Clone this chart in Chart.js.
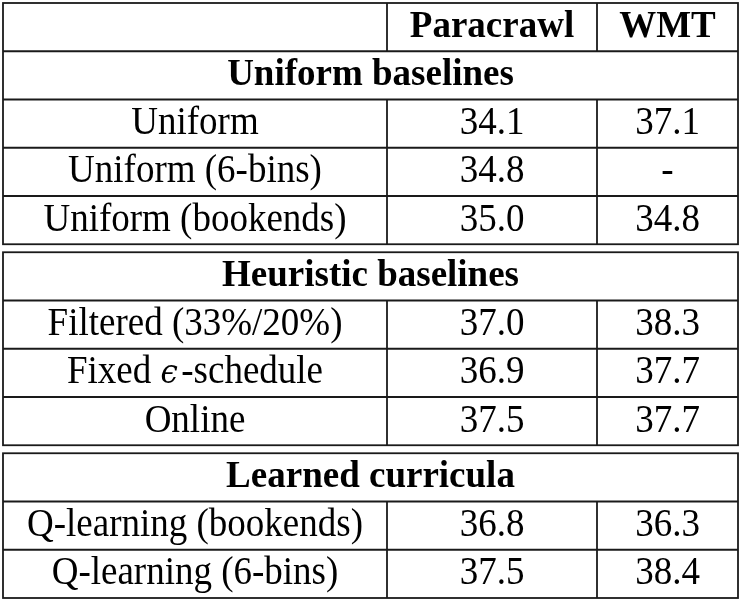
<!DOCTYPE html>
<html><head><meta charset="utf-8">
<script src="https://cdn.jsdelivr.net/npm/chart.js@4"></script>
<style>html,body{margin:0;padding:0;background:#fff}canvas{display:block}</style>
</head><body>
<canvas id="c" width="741" height="603" style="width:741px;height:603px"></canvas>
<script>
// ---- data ----
const columns = ['', 'Paracrawl', 'WMT'];
const groups = ['Uniform baselines', 'Heuristic baselines', 'Learned curricula'];
const methods = ['Uniform', 'Uniform (6-bins)', 'Uniform (bookends)',
  'Filtered (33%/20%)', 'Fixed \u03F5-schedule', 'Online',
  'Q-learning (bookends)', 'Q-learning (6-bins)'];
const methodGroup = [0, 0, 0, 1, 1, 1, 2, 2];
const paracrawl = [34.1, 34.8, 35.0, 37.0, 36.9, 37.5, 36.8, 37.5];
const wmt = [37.1, null, 34.8, 38.3, 37.7, 37.7, 36.3, 38.4];

// ---- layout (not data) ----
const colEdges = [0, 384, 594, 735];
const GAP = 0.166; // gap between stacked tables, in row units
const FONT = '"Liberation Serif", "Times New Roman", serif';
const FS = 37;

const rows = [];
let y = 0;
rows.push({type: 'header', top: y, block: 0}); y += 1;
groups.forEach((g, gi) => {
  if (gi > 0) y += GAP;
  rows.push({type: 'group', top: y, label: g, block: gi}); y += 1;
  methods.forEach((m, mi) => {
    if (methodGroup[mi] === gi) { rows.push({type: 'row', top: y, label: m, idx: mi, block: gi}); y += 1; }
  });
});
const totalH = y;
const colCenter = i => (colEdges[i] + colEdges[i + 1]) / 2;
const fmt = v => (v === null || v === undefined) ? '-' : v.toFixed(1);

const textCells = [];
rows.forEach(r => {
  const cy = r.top + 0.5;
  if (r.type === 'header') {
    columns.forEach((c, ci) => textCells.push({x: colCenter(ci), y: cy, text: c, bold: true}));
  } else if (r.type === 'group') {
    textCells.push({x: (colEdges[0] + colEdges[3]) / 2, y: cy, text: r.label, bold: true});
  } else {
    textCells.push({x: colCenter(0), y: cy, text: r.label, bold: false});
    textCells.push({x: colCenter(1), y: cy, text: fmt(paracrawl[r.idx]), bold: false});
    textCells.push({x: colCenter(2), y: cy, text: fmt(wmt[r.idx]), bold: false});
  }
});

function drawRuns(ctx, text, cx, base, bold) {
  const weight = bold ? 'bold ' : '';
  const runs = [];
  let buf = '';
  for (const ch of text) {
    if (ch === '\u03F5') { if (buf) runs.push({t: buf, it: false}); buf = ''; runs.push({t: ch, it: true}); }
    else buf += ch;
  }
  if (buf) runs.push({t: buf, it: false});
  const fontFor = r => (r.it ? 'italic ' : '') + weight + FS + 'px ' + (r.it ? '"DejaVu Serif", ' : '') + FONT;
  let total = 0;
  runs.forEach(r => { ctx.font = fontFor(r); r.w = ctx.measureText(r.t).width; total += r.w; });
  let x = cx - total / 2;
  ctx.textAlign = 'left';
  runs.forEach(r => {
    ctx.font = r.it ? ('italic ' + weight + Math.round(FS * 0.85) + 'px "DejaVu Serif", ' + FONT) : fontFor(r);
    ctx.fillText(r.t, x, 0);
    x += r.w;
  });
}

const tablePlugin = {
  id: 'tablePlugin',
  afterDatasetsDraw(chart) {
    const ctx = chart.ctx, xs = chart.scales.x, ys = chart.scales.y;
    const X = v => xs.getPixelForValue(v), Y = v => ys.getPixelForValue(v);
    ctx.save();
    ctx.strokeStyle = '#1a1a1a';
    ctx.lineWidth = 1.8;
    for (let b = 0; b < groups.length; b++) {
      const br = rows.filter(r => r.block === b);
      const top = br[0].top, bot = br[br.length - 1].top + 1;
      ctx.strokeRect(X(colEdges[0]), Y(top), X(colEdges[3]) - X(colEdges[0]), Y(bot) - Y(top));
      br.forEach((r, i) => {
        if (i > 0) {
          ctx.beginPath(); ctx.moveTo(X(colEdges[0]), Y(r.top)); ctx.lineTo(X(colEdges[3]), Y(r.top)); ctx.stroke();
        }
        if (r.type !== 'group') {
          [1, 2].forEach(ci => {
            ctx.beginPath(); ctx.moveTo(X(colEdges[ci]), Y(r.top)); ctx.lineTo(X(colEdges[ci]), Y(r.top + 1)); ctx.stroke();
          });
        }
      });
    }
    const meta = chart.getDatasetMeta(0);
    ctx.fillStyle = '#000';
    ctx.textBaseline = 'alphabetic';
    meta.data.forEach((pt, i) => {
      const c = textCells[i];
      const sy = c.bold ? 1.0 : 1.06;
      const capH = FS * 0.662 * sy;
      const base = pt.y + capH / 2 - 2.5;
      ctx.save();
      ctx.translate(0, base);
      ctx.scale(1, sy);
      drawRuns(ctx, c.text, pt.x, 0, c.bold);
      ctx.restore();
    });
    ctx.restore();
  }
};

new Chart(document.getElementById('c'), {
  type: 'scatter',
  data: { datasets: [{ data: textCells.map(c => ({x: c.x, y: c.y})), pointRadius: 0, pointHoverRadius: 0, showLine: false }] },
  options: {
    responsive: false, animation: false, events: [],
    layout: { padding: { left: 3, right: 3, top: 3, bottom: 5 } },
    scales: {
      x: { type: 'linear', display: false, min: colEdges[0], max: colEdges[3] },
      y: { type: 'linear', display: false, min: 0, max: totalH, reverse: true }
    },
    plugins: { legend: { display: false }, tooltip: { enabled: false } }
  },
  plugins: [tablePlugin]
});
</script>
</body></html>
